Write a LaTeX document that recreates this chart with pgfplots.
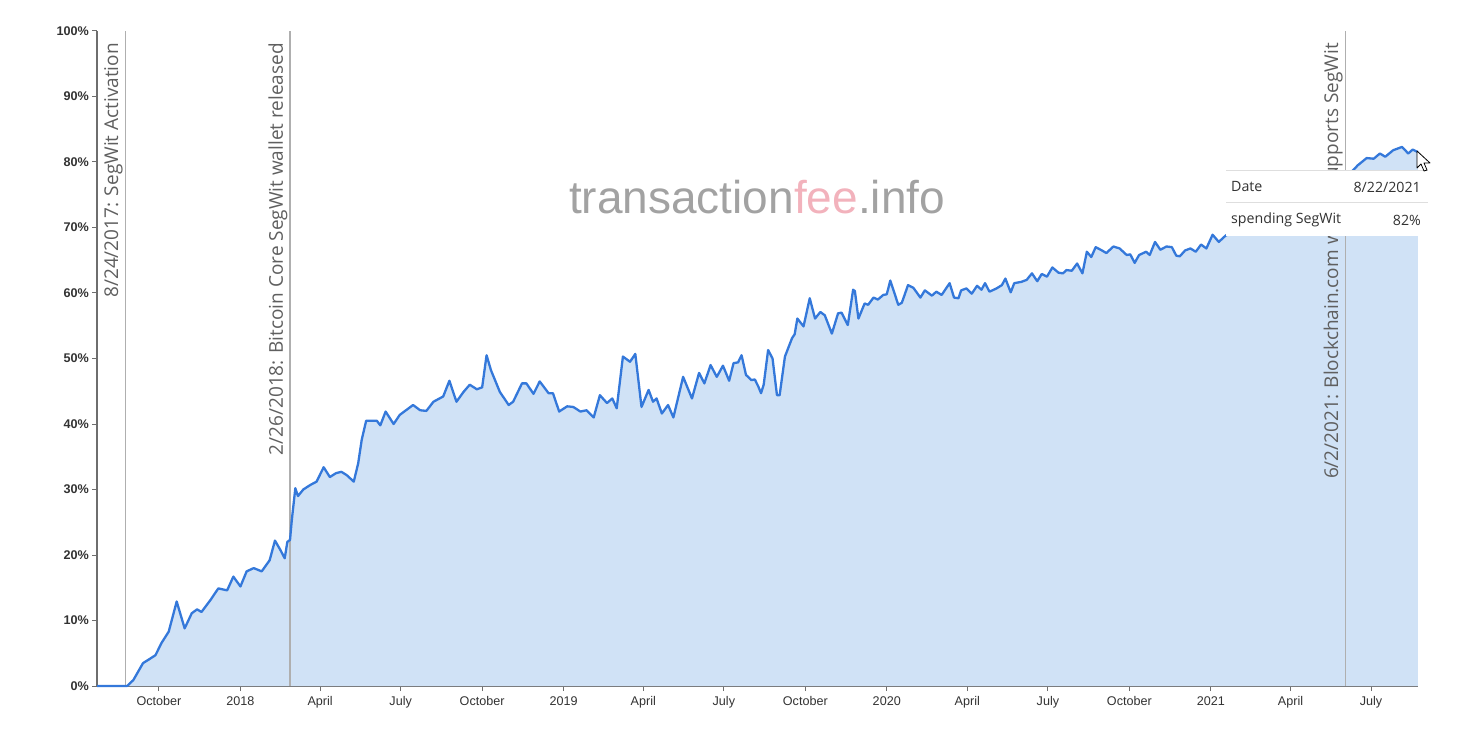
\documentclass[border=0pt]{standalone}
\usepackage{pgfplots}
\pgfplotsset{compat=1.18}
\usepackage{fontspec}
\setmainfont{Liberation Sans}
\newfontfamily\annfont{Open Sans}
\definecolor{lineblue}{RGB}{52,120,218}
\definecolor{fillblue}{RGB}{208,226,246}
\definecolor{axisgray}{RGB}{110,110,110}
\definecolor{vgray}{RGB}{175,175,175}
\definecolor{anngray}{RGB}{95,95,95}
\definecolor{wmgray}{RGB}{162,162,162}
\definecolor{wmpink}{RGB}{242,178,188}
\definecolor{tipline}{RGB}{222,222,222}
\definecolor{tiptext}{RGB}{50,50,50}
\definecolor{ticktext}{RGB}{50,50,50}

% x = days since 2018-01-01, y = share of transactions spending SegWit (%)
\pgfplotstableread{
x y
-162 0
-128 0
-121 0.9
-110 3.5
-104 4.0
-96 4.7
-89 6.6
-81 8.3
-72 12.9
-63 8.8
-55 11.1
-49 11.7
-44 11.3
-34 13.1
-25 14.9
-15 14.6
-8 16.7
0 15.2
7 17.5
15 18.0
24 17.5
33 19.2
39 22.2
45 20.8
50 19.5
53 22.0
56 22.3
58 25.3
62 30.2
65 29.0
71 30.0
79 30.7
86 31.2
94 33.4
101 31.9
108 32.5
114 32.7
120 32.2
128 31.2
133 34.0
137 37.6
142 40.5
154 40.5
158 39.8
164 41.9
173 40.0
180 41.4
190 42.4
195 42.9
203 42.1
210 42.0
218 43.4
229 44.2
236 46.6
244 43.4
252 44.9
259 46.0
267 45.3
273 45.6
278 50.5
283 48.2
293 44.9
303 42.9
308 43.4
318 46.2
323 46.2
331 44.6
338 46.5
348 44.7
353 44.7
360 41.9
369 42.7
376 42.6
384 41.9
391 42.1
399 41.0
406 44.4
414 43.2
420 43.9
425 42.4
432 50.3
440 49.5
446 50.7
453 42.6
461 45.2
466 43.4
470 43.9
476 41.6
483 42.9
489 41.0
500 47.2
510 43.9
518 47.8
524 46.2
531 49.0
538 47.2
545 48.9
552 46.6
557 49.3
562 49.4
566 50.5
571 47.5
577 46.7
581 46.8
585 45.7
588 44.7
591 46.0
596 51.3
601 50.0
606 44.4
609 44.4
615 50.3
623 53.1
626 53.7
629 56.1
636 54.9
643 59.2
649 56.1
655 57.1
660 56.6
668 53.8
675 56.9
679 57.0
686 55.1
692 60.5
694 60.3
698 56.1
705 58.4
709 58.2
715 59.3
720 59.0
726 59.7
730 59.8
734 61.9
743 58.2
747 58.5
754 61.2
760 60.8
768 59.3
773 60.4
781 59.6
786 60.2
792 59.7
801 61.5
806 59.3
811 59.2
814 60.4
820 60.7
826 59.9
832 61.1
837 60.5
841 61.5
846 60.2
854 60.7
860 61.2
864 62.2
870 60.1
874 61.5
882 61.7
888 62.0
894 63.0
900 61.8
905 62.9
911 62.5
917 63.9
924 63.1
929 63.0
933 63.5
939 63.4
945 64.5
951 63.0
956 66.3
961 65.5
966 67.0
973 66.5
978 66.1
986 67.1
993 66.8
1001 65.8
1005 65.9
1010 64.6
1015 65.8
1023 66.3
1027 65.8
1033 67.8
1039 66.6
1046 67.1
1052 67.0
1057 65.7
1061 65.6
1067 66.5
1073 66.8
1079 66.3
1085 67.4
1091 66.8
1098 68.9
1105 67.8
1113 68.8
1129 69.5
1152 70.2
1174 70.0
1197 70.8
1214 69.3
1231 72.5
1248 77.5
1262 79.5
1272 80.6
1280 80.5
1287 81.3
1293 80.8
1302 81.8
1312 82.3
1319 81.3
1324 81.9
1330 81.5
}\segwit

\begin{document}
\begin{tikzpicture}
\path[use as bounding box] (0pt,0pt) rectangle (1468pt,748pt);

% watermark
\node[font=\fontsize{46}{50}\selectfont, text=wmgray, inner sep=0pt] at (757pt,551pt)
  {transaction\textcolor{wmpink}{fee}.info};

\begin{axis}[
  at={(97pt,62pt)}, anchor=south west,
  scale only axis, width=1321pt, height=655pt,
  xmin=-162, xmax=1330, ymin=0, ymax=100,
  axis x line*=bottom, axis y line*=left,
  axis line style={-, draw=axisgray, line width=1.4pt},
  tick align=outside, major tick length=5pt,
  tick style={draw=axisgray, line width=1pt},
  xtick={-92,0,90,181,273,365,455,546,638,730,821,912,1004,1096,1186,1277},
  xticklabels={October,2018,April,July,October,2019,April,July,October,2020,April,July,October,2021,April,July},
  ytick={0,10,...,100},
  yticklabels={0\%,10\%,20\%,30\%,40\%,50\%,60\%,70\%,80\%,90\%,100\%},
  xticklabel style={font=\fontsize{12.6}{14}\selectfont, text=ticktext, inner sep=0pt, yshift=-5.5pt},
  yticklabel style={font=\fontsize{12.6}{14}\selectfont\bfseries, text=ticktext, inner sep=0pt, xshift=-3pt},
  clip=false,
]
\addplot[draw=none, fill=fillblue] table[x=x,y=y]{\segwit} \closedcycle;
\addplot[draw=vgray, line width=1.1pt] coordinates {(-130,0) (-130,100)};
\addplot[draw=vgray, line width=1.1pt] coordinates {(56,0) (56,100)};
\addplot[draw=vgray, line width=1.1pt] coordinates {(1248,0) (1248,100)};
\addplot[draw=lineblue, line width=2.3pt, line join=round] table[x=x,y=y]{\segwit};

\node[rotate=90, anchor=south east, inner sep=0pt, font=\annfont\fontsize{19}{21}\selectfont, text=anngray]
  at ([xshift=-2.5pt, yshift=-12pt]axis cs:-130,100) {8/24/2017: SegWit Activation};
\node[rotate=90, anchor=south east, inner sep=0pt, font=\annfont\fontsize{19}{21}\selectfont, text=anngray]
  at ([xshift=-2.5pt, yshift=-12pt]axis cs:56,100) {2/26/2018: Bitcoin Core SegWit wallet released};
\node[rotate=90, anchor=south east, inner sep=0pt, font=\annfont\fontsize{19}{21}\selectfont, text=anngray]
  at ([xshift=-2.5pt, yshift=-12pt]axis cs:1248,100) {6/2/2021: Blockchain.com wallet supports SegWit};
\end{axis}

% tooltip
\fill[white] (1226pt,512pt) rectangle (1428pt,577pt);
\draw[tipline, line width=1pt] (1226pt,577pt) -- (1428pt,577pt);
\draw[tipline, line width=1pt] (1226pt,545pt) -- (1428pt,545pt);
\node[anchor=west, inner sep=0pt, font=\annfont\fontsize{14.2}{16}\selectfont, text=tiptext] at (1231pt,561pt) {Date};
\node[anchor=east, inner sep=0pt, font=\annfont\fontsize{14.2}{16}\selectfont, text=tiptext] at (1421pt,561pt) {8/22/2021};
\node[anchor=west, inner sep=0pt, font=\annfont\fontsize{14.2}{16}\selectfont, text=tiptext] at (1231pt,528pt) {spending SegWit};
\node[anchor=east, inner sep=0pt, font=\annfont\fontsize{14.2}{16}\selectfont, text=tiptext] at (1421pt,528pt) {82\%};

% mouse cursor
\filldraw[fill=white, draw=black, line width=0.8pt, line join=round]
  (1417pt,597pt) -- (1417pt,580pt) -- (1421pt,584pt) -- (1424pt,577pt) -- (1427pt,578pt) -- (1424pt,585pt) -- (1430pt,585pt) -- cycle;
\end{tikzpicture}
\end{document}
